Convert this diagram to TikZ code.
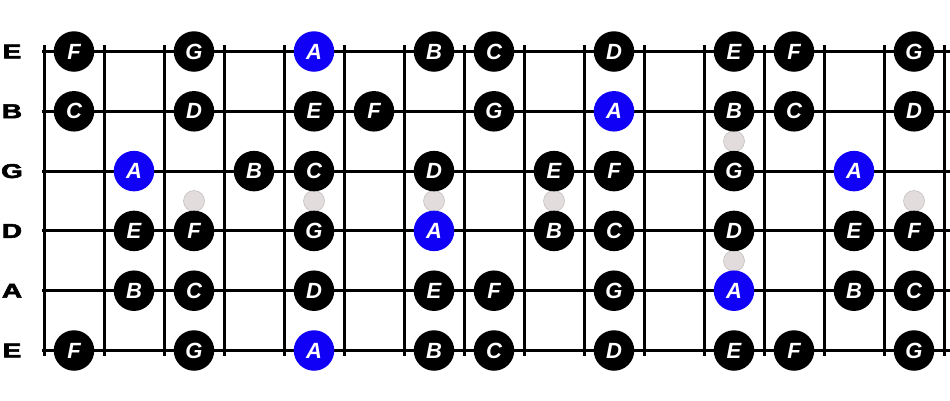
\documentclass[tikz,border=0pt]{standalone}
\usepackage{fontspec}
\newfontfamily\notefont{Liberation Sans Bold Italic}
\newfontfamily\labfont[FakeBold=2.5]{Liberation Sans Bold}
\newcommand\notestyle{\notefont\fontsize{22}{24}\selectfont}
\newcommand\labstyle{\labfont\fontsize{20}{22}\selectfont}
\definecolor{inlay}{RGB}{226,220,220}
\definecolor{inlayedge}{RGB}{190,185,185}
\definecolor{rootblue}{RGB}{16,0,245}
\begin{document}
\begin{tikzpicture}[x=1pt,y=-1pt,
  line/.style={line width=3pt,black},
  nt/.style={circle,fill=black,minimum size=40.5pt,inner sep=0pt,text=white,font=\notestyle},
  rt/.style={nt,fill=rootblue},
  dot/.style={circle,fill=inlay,draw=inlayedge,line width=0.5pt,minimum size=21pt,inner sep=0pt},
  slabel/.style={font=\labstyle,xscale=1.4,inner sep=0pt}]
\useasboundingbox (0,0) rectangle (950,400);
% string coordinates
\foreach \s/\lab [count=\i from 0] in {s1/E,s2/B,s3/G,s4/D,s5/A,s6/E}{
  \pgfmathsetmacro{\yy}{51.5+59.8*\i}
  \coordinate (\s-l) at (42,\yy);
  \coordinate (\s-r) at (950,\yy);
  \node[slabel] (lab-\s) at (12,\yy) {\lab};
}
\foreach \s in {s1,s2,s3,s4,s5,s6}{ \draw[line] (\s-l) -- (\s-r); }
% frets
\foreach \k in {0,...,15}{
  \pgfmathsetmacro{\xx}{44+60*\k}
  \coordinate (f\k-t) at (\xx,45);
  \coordinate (f\k-b) at (\xx,356);
  \draw[line] (f\k-t) -- (f\k-b);
}
% inlays
\pgfmathsetmacro{\ymid}{51.5+59.8*2.5}
\pgfmathsetmacro{\yup}{51.5+59.8*1.5}
\pgfmathsetmacro{\ydn}{51.5+59.8*3.5}
\foreach \f in {3,5,7,9,15}{ \node[dot] (in\f) at (14+60*\f,\ymid) {}; }
\node[dot] (in12a) at (734,\yup) {};
\node[dot] (in12b) at (734,\ydn) {};
% notes
\foreach \s/\list [count=\i from 0] in {
  s1/{1/F/nt,3/G/nt,5/A/rt,7/B/nt,8/C/nt,10/D/nt,12/E/nt,13/F/nt,15/G/nt},
  s2/{1/C/nt,3/D/nt,5/E/nt,6/F/nt,8/G/nt,10/A/rt,12/B/nt,13/C/nt,15/D/nt},
  s3/{2/A/rt,4/B/nt,5/C/nt,7/D/nt,9/E/nt,10/F/nt,12/G/nt,14/A/rt},
  s4/{2/E/nt,3/F/nt,5/G/nt,7/A/rt,9/B/nt,10/C/nt,12/D/nt,14/E/nt,15/F/nt},
  s5/{2/B/nt,3/C/nt,5/D/nt,7/E/nt,8/F/nt,10/G/nt,12/A/rt,14/B/nt,15/C/nt},
  s6/{1/F/nt,3/G/nt,5/A/rt,7/B/nt,8/C/nt,10/D/nt,12/E/nt,13/F/nt,15/G/nt}}{
  \foreach \f/\n/\t in \list {
    \pgfmathsetmacro{\yy}{51.5+59.8*\i}
    \node[\t] (\s-\f) at (14+60*\f,\yy) {\n};
  }
}
\end{tikzpicture}
\end{document}
